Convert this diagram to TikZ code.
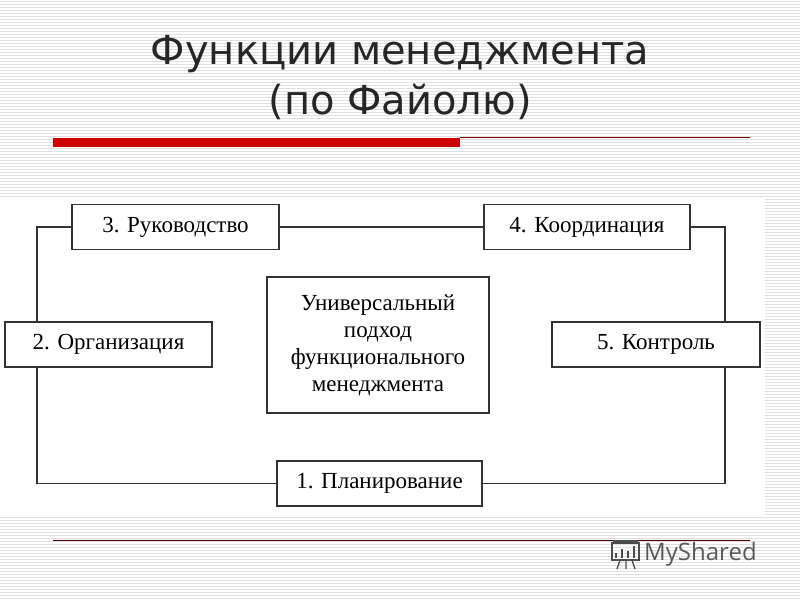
\documentclass[tikz,border=0pt]{standalone}
\usepackage{fontspec}
\setmainfont{Liberation Serif}
\newfontfamily\titlefont{DejaVu Sans}
\newfontfamily\logofont{Open Sans}
\begin{document}
\begin{tikzpicture}[x=1pt,y=-1pt,
  fbox/.style={draw=black!80,line width=1.2pt,fill=white,minimum width=#1,minimum height=45pt,inner sep=0pt,font=\fontsize{23}{26}\selectfont},
  wire/.style={draw=black!80,line width=1.2pt}]
\useasboundingbox (0,0) rectangle (800,600);
\fill[white] (0,0) rectangle (800,600);
\foreach \y in {1,4,...,600} \draw[black!12,line width=0.8pt] (0,\y) -- (800,\y);
\fill[white] (0,197) rectangle (765,515);
\node[font=\titlefont\fontsize{40}{50}\selectfont,align=center,text=black!85] (title) at (400,78) {Функции менеджмента\\(по Файолю)};
\fill[red!80!black] (53,138) rectangle (460,147);
\draw[red!50!black,line width=0.6pt] (460,137) -- (750,137);
\draw[red!30!black,line width=0.6pt] (53,540) -- (750,540);
\node[fbox=207pt] (b3) at (175.5,227) {3. Руководство};
\node[fbox=206pt] (b4) at (587,227) {4. Координация};
\node[fbox=207pt] (b2) at (108.5,344.5) {2. Организация};
\node[fbox=208pt] (b5) at (656,344.5) {5. Контроль};
\node[fbox=205pt] (b1) at (379.5,483.5) {1. Планирование};
\node[draw=black!80,line width=1.2pt,fill=white,minimum width=222pt,minimum height=136pt,align=center,font=\fontsize{23}{27}\selectfont] (c) at (378,345) {Универсальный\\подход\\функционального\\менеджмента};
\coordinate (tl) at (37,227); \coordinate (bl) at (37,484);
\coordinate (tr) at (725,227); \coordinate (br) at (725,484);
\draw[wire] (b3.east) -- (b4.west);
\draw[wire] (b3.west) -- (tl) -- (tl |- b2.north);
\draw[wire] (bl |- b2.south) -- (bl |- b1.west) -- (b1.west);
\draw[wire] (b4.east) -- (tr) -- (tr |- b5.north);
\draw[wire] (tr |- b5.south) -- (br |- b1.east) -- (b1.east);
% logo
\begin{scope}[line width=1.3pt,color=black!70]
\draw (612,543) rectangle (639,560);
\draw (613,541) -- (638,541);
\draw (616,553) -- (616,558) (622,549) -- (622,558) (628,551) -- (628,558) (634,546) -- (634,558);
\draw (620,560) -- (617,569) (626,560) -- (626,569) (632,560) -- (635,569);
\end{scope}
\node[font=\logofont\fontsize{24}{28}\selectfont,text=black!65,anchor=west,inner sep=0pt] (logo) at (644,554) {MyShared};
\end{tikzpicture}
\end{document}
